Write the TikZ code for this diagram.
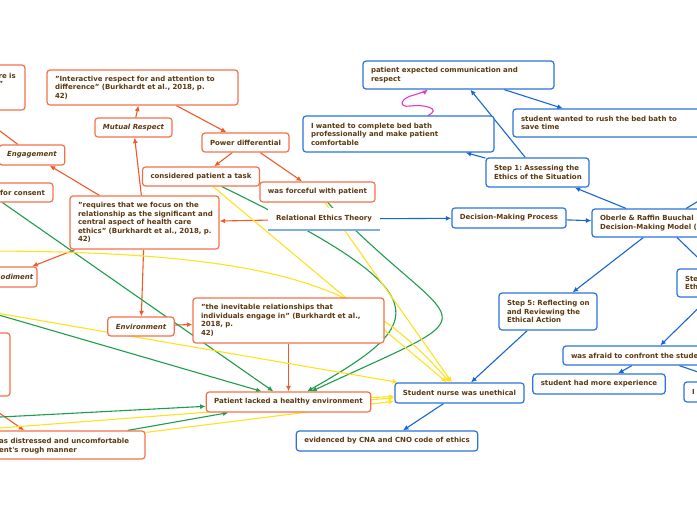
\documentclass[tikz,border=0pt]{standalone}
\usepackage{fontspec}
\setmainfont{DejaVu Sans}
\usetikzlibrary{arrows.meta,calc}
\definecolor{oline}{HTML}{F05A28}
\definecolor{obox}{HTML}{F3714A}
\definecolor{bline}{HTML}{1766D6}
\definecolor{bbox}{HTML}{2A74DA}
\definecolor{gline}{HTML}{1E9E4C}
\definecolor{yline}{HTML}{FFE21F}
\definecolor{pline}{HTML}{E53AC6}
\definecolor{ulin}{HTML}{7FAEE6}
\definecolor{txtc}{HTML}{5C3810}
\pgfdeclarelayer{back}
\pgfdeclarelayer{bg}
\pgfsetlayers{back,bg,main}
\frenchspacing
\begin{document}
\begin{tikzpicture}[x=1pt,y=-1pt,
  base/.style={rounded corners=3pt, fill=white, line width=1.2pt, inner xsep=8pt, inner ysep=0pt,
    text=txtc, font=\fontsize{7}{8.5}\selectfont\bfseries, anchor=center},
  ob/.style={base, draw=obox},
  bb/.style={base, draw=bbox},
  it/.style={font=\fontsize{7}{8.5}\selectfont\bfseries\itshape},
  sz/.style n args={2}{minimum width=#1pt, minimum height=#2pt},
  ml/.style={text width=#1pt, align=left},
  txtn/.style={inner sep=0pt, text=txtc, font=\fontsize{7}{8.5}\selectfont\bfseries},
  tip/.style={-{Latex[length=5.5pt,width=5pt]}},
  oarr/.style={draw=oline, line width=1.1pt, tip},
  barr/.style={draw=bline, line width=1.1pt, tip},
  garr/.style={draw=gline, line width=1.1pt, tip},
  yarr/.style={draw=yline, line width=1.1pt, tip},
  parr/.style={draw=pline, line width=1.1pt, tip}
]
\useasboundingbox (0,0) rectangle (697,520);
\begin{pgfonlayer}{back}
  \fill[white] (0,0) rectangle (697,520);
\end{pgfonlayer}

% ---------- orange nodes ----------
\node[ob, sz={166}{45}] (oA) at (-58,87.5) {};
\node[txtn, anchor=base east] (oAa) at (16,78.2) {re is};
\node[txtn, anchor=base east] (oAb) at (3.5,86.7) {"};
\node[ob, sz={191}{35}, ml=175] (inter) at (142.5,87.5) {\mbox{"Interactive respect for and attention to}\\\mbox{difference" (Burkhardt et al., 2018, p.}\\42)};
\node[ob, it, sz={77}{19}] (mutual) at (133.5,127.5) {Mutual Respect};
\node[ob, sz={87}{19}] (power) at (245.5,142.5) {Power differential};
\node[ob, it, sz={64}{20}] (engage) at (32,155) {Engagement};
\node[ob, sz={116}{19}] (task) at (201,176.5) {considered patient a task};
\node[ob, sz={115}{20}] (force) at (317.5,192) {was forceful with patient};
\node[ob, sz={130}{19}, text width=114pt, align=right] (consent) at (-12,192.5) {for consent};
\node[ob, sz={149}{53}, ml=133] (req) at (144.5,222.5) {\mbox{"requires that we focus on the}\\\mbox{relationship as the significant and}\\\mbox{central aspect of health care}\\\mbox{ethics" (Burkhardt et al., 2018, p.}\\42)};
\node[ob, sz={64}{20}] (embod) at (5,277) {};
\node[txtn, font=\fontsize{7}{8.5}\selectfont\bfseries\itshape, anchor=base west] (embodt) at (0.5,279.5) {odiment};
\node[ob, it, sz={66}{19}] (env) at (141,326.5) {Environment};
\node[ob, sz={191}{45}, ml=175] (inev) at (288.5,320.5) {\mbox{"the inevitable relationships that}\\\mbox{individuals engage in" (Burkhardt et al.,}\\2018, p.\\42)};
\node[ob, sz={160}{63}] (leftbox) at (-70,364.5) {};
\node[ob, sz={163}{20}] (lack) at (288.5,402) {Patient lacked a healthy environment};
\node[ob, sz={200}{28}] (distress) at (45,445) {};
\node[txtn, anchor=base west] (dA) at (-1,443.6) {as distressed and uncomfortable};
\node[txtn, anchor=base west] (dB) at (-1,452.6) {ent\textquotesingle s rough manner};

% ---------- blue nodes ----------
\node[bb, sz={191}{28}, ml=175] (pexp) at (458.5,75) {\mbox{patient expected communication and}\\respect};
\node[bb, sz={191}{36}, ml=175] (iwant) at (398.5,134) {\mbox{I wanted to complete bed bath}\\\mbox{professionally and make patient}\\comfortable};
\node[bb, sz={191}{28}, ml=175] (rush) at (608.5,123) {\mbox{student wanted to rush the bed bath to}\\save time};
\node[bb, sz={103}{29}, ml=87] (step1) at (537.5,172.5) {\mbox{Step 1: Assessing the}\\\mbox{Ethics of the Situation}};
\node[bb, sz={114}{20}] (dmp) at (509,218) {Decision-Making Process};
\node[bb, sz={140}{28}, ml=124] (oberle) at (662,223) {\mbox{Oberle \& Raffin Buuchal}\\\mbox{Decision-Making Model (}};
\node[bb, sz={94}{28}, ml=78] (step2) at (724,283) {Ste\\Eth};
\node[bb, sz={98}{37}, ml=82] (step5) at (548,311.5) {\mbox{Step 5: Reflecting on}\\\mbox{and Reviewing the}\\\mbox{Ethical Action}};
\node[bb, sz={174}{19}, ml=158] (afraid) at (650,355.5) {\mbox{was afraid to confront the stude}};
\node[bb, sz={132}{20}] (exper) at (599,384) {student had more experience};
\node[bb, sz={144}{20}, ml=128] (ipart) at (756,392) {I};
\node[bb, sz={129}{20}] (nurse) at (459.5,393) {Student nurse was unethical};
\node[bb, sz={180}{20}] (evid) at (387,441) {evidenced by CNA and CNO code of ethics};

% ---------- central topic ----------
\node[fill=white, minimum width=112pt, minimum height=22pt, inner sep=0pt, text=txtc,
  font=\fontsize{7}{8.5}\selectfont\bfseries] (ret) at (324,219) {Relational Ethics Theory};
\draw[ulin, line width=2pt] (ret.south west) -- (ret.south east);

% ---------- free ends ----------
\coordinate (gL1) at (-15,311);
\coordinate (gL2) at (-30,418.6);
\coordinate (yC) at (-20,251);
\coordinate (yL2) at (-30,430.3);
\coordinate (bUR) at (745,173);

\begin{pgfonlayer}{bg}
% orange
\draw[oarr] (ret) -- (req);
\draw[oarr] (req) -- (mutual);
\draw[oarr] (mutual) -- (inter);
\draw[oarr] (inter) -- (power);
\draw[oarr] (power) -- (task);
\draw[oarr] (power) -- (force);
\draw[oarr] (req) -- (engage);
\draw[oarr] (req) -- (embod);
\draw[oarr] (req) -- (env);
\draw[oarr] (env) -- (inev);
\draw[oarr] (inev) -- (lack);
\draw[oarr] (engage) -- (oA);
\draw[oarr] (leftbox) -- (distress);
% green
\draw[garr] (consent) -- (lack);
\draw[garr] (gL1) -- ($(lack.north west)+(56,0)$);
\draw[garr] (gL2) -- (lack);
\draw[garr] (distress) -- (lack);
\draw[garr] (task) .. controls (445,295) and (429,322) .. (lack);
\draw[garr] (force) .. controls (460,340) and (504,302) .. (lack);
% yellow
\draw[yarr] (task) -- (nurse);
\draw[yarr] (force) -- (nurse);
\draw[yarr] (yC) .. controls (300,251) and (370,293) .. (nurse);
\draw[yarr] (gL1) -- (nurse);
\draw[yarr] (lack) -- (nurse);
\draw[yarr] (yL2) -- (nurse);
\draw[yarr] (distress) -- (nurse);
% blue
\draw[barr] (ret) -- (dmp);
\draw[barr] (dmp) -- (oberle);
\draw[barr] (oberle) -- (step1);
\draw[barr] (step1) -- (iwant);
\draw[barr] (step1) -- (pexp);
\draw[barr] (pexp) -- (rush);
\draw[barr] (oberle) -- (step5);
\draw[barr] (oberle) -- (step2);
\draw[barr] (oberle) -- (bUR);
\draw[barr] (step2) -- (afraid);
\draw[barr] (afraid) -- (exper);
\draw[barr] (afraid) -- (ipart);
\draw[barr] (step5) -- (nurse);
\draw[barr] (nurse) -- (evid);
% pink
\draw[parr] ($(iwant.north)+(29.5,0)$) .. controls (442,109) and (425,104) .. (410,106)
  .. controls (398,108) and (400,98) .. (414,95)
  .. controls (420,93) and (426,91) .. ($(pexp.south)+(-30.5,0)$);
\end{pgfonlayer}
\end{tikzpicture}
\end{document}
